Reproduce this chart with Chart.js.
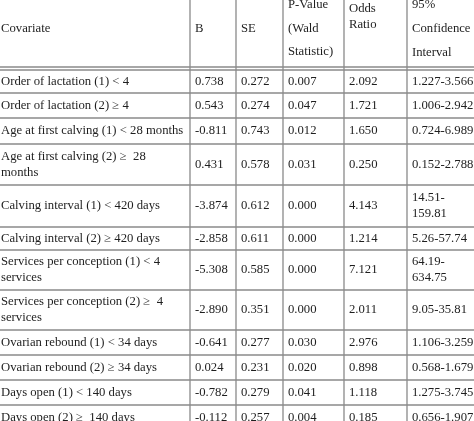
<!DOCTYPE html>
<html><head><meta charset="utf-8">
<script src="https://cdn.jsdelivr.net/npm/chart.js@4"></script>
<style>html,body{margin:0;padding:0;background:#fff}#wrap{width:474px;height:421px}</style>
</head><body><div id="wrap"><canvas id="c"></canvas></div>
<script>
const headers = [["Covariate"],["B"],["SE"],["P-Value","(Wald","Statistic)"],["Odds","Ratio"],["95%","Confidence","Interval"]];
const covariates = [
 ["Order of lactation (1) < 4"],
 ["Order of lactation (2) ≥ 4"],
 ["Age at first calving (1) < 28 months"],
 ["Age at first calving (2) ≥  28","months"],
 ["Calving interval (1) < 420 days"],
 ["Calving interval (2) ≥ 420 days"],
 ["Services per conception (1) < 4","services"],
 ["Services per conception (2) ≥  4","services"],
 ["Ovarian rebound (1) < 34 days"],
 ["Ovarian rebound (2) ≥ 34 days"],
 ["Days open (1) < 140 days"],
 ["Days open (2) ≥  140 days"]
];
const B = ["0.738","0.543","-0.811","0.431","-3.874","-2.858","-5.308","-2.890","-0.641","0.024","-0.782","-0.112"];
const SE = ["0.272","0.274","0.743","0.578","0.612","0.611","0.585","0.351","0.277","0.231","0.279","0.257"];
const P = ["0.007","0.047","0.012","0.031","0.000","0.000","0.000","0.000","0.030","0.020","0.041","0.004"];
const OR = ["2.092","1.721","1.650","0.250","4.143","1.214","7.121","2.011","2.976","0.898","1.118","0.185"];
const CI = [["1.227-3.566"],["1.006-2.942"],["0.724-6.989"],["0.152-2.788"],["14.51-","159.81"],["5.26-57.74"],["64.19-","634.75"],["9.05-35.81"],["1.106-3.259"],["0.568-1.679"],["1.275-3.745"],["0.656-1.907"]];

// layout (table geometry in pixel-units of the linear scales)
const rowLines = [70,93,118,144,185,227,250,290,330,355,380,405,430];
const colLines = [190,236,283,344,407];
const colText = [1,195,241,288,349,412];
const headerY = [[29],[29],[29],[5,29,52],[9,25],[5,29,53]];

const tablePlugin = {
  id:'table',
  afterDraw(chart){
    const ctx = chart.ctx, xs = chart.scales.x, ys = chart.scales.y;
    const X = v=>xs.getPixelForValue(v), Y = v=>ys.getPixelForValue(v);
    ctx.save();
    ctx.strokeStyle = '#8a8a8a'; ctx.lineWidth = 1.3;
    ctx.beginPath();
    colLines.forEach(c=>{ctx.moveTo(X(c),Y(-5));ctx.lineTo(X(c),Y(430));});
    rowLines.forEach(r=>{ctx.moveTo(X(0),Y(r));ctx.lineTo(X(480),Y(r));});
    ctx.moveTo(X(0),Y(67));ctx.lineTo(X(480),Y(67));
    ctx.stroke();
    ctx.fillStyle = '#1e1e1e';
    ctx.font = '12.7px "Liberation Serif", "DejaVu Serif", serif';
    ctx.textBaseline = 'middle';
    headers.forEach((h,i)=>h.forEach((t,j)=>ctx.fillText(t,X(colText[i]),Y(headerY[i][j]))));
    const cols = [covariates, B, SE, P, OR, CI];
    for(let r=0;r<covariates.length;r++){
      const top=rowLines[r], bot=rowLines[r+1], mid=(top+bot)/2;
      cols.forEach((col,ci)=>{
        const v = col[r]; const lines = Array.isArray(v)?v:[v];
        const lh = 16;
        const start = mid - (lines.length-1)*lh/2;
        lines.forEach((t,k)=>ctx.fillText(t,X(colText[ci]),Y(start+k*lh)));
      });
    }
    ctx.restore();
  }
};

new Chart(document.getElementById('c'),{
  type:'scatter',
  data:{datasets:[{data:[],pointRadius:0}]},
  options:{
    responsive:true, maintainAspectRatio:false, animation:false,
    layout:{padding:0},
    plugins:{legend:{display:false},tooltip:{enabled:false}},
    scales:{
      x:{type:'linear',min:0,max:474,display:false},
      y:{type:'linear',min:0,max:421,reverse:true,display:false}
    }
  },
  plugins:[tablePlugin]
});
</script></body></html>
